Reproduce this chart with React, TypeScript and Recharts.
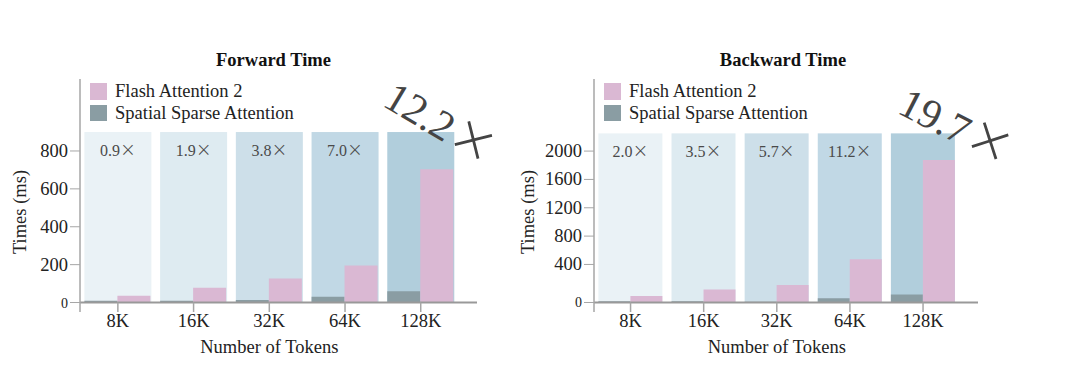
import React from 'react';
import {
  ComposedChart,
  Bar,
  XAxis,
  YAxis,
  ReferenceLine,
} from 'recharts';

const tokens = ['8K', '16K', '32K', '64K', '128K'];

const fwdFlash = [36, 78, 127, 196, 704];
const fwdSparse = [9, 9, 14, 30, 60];
const fwdBg = [900, 900, 900, 900, 900];
const fwdSpeedup = ['0.9', '1.9', '3.8', '7.0', '12.2'];
const fwdTicks = [0, 200, 400, 600, 800];

const bwdFlash = [69, 137, 185, 475, 1873];
const bwdSparse = [14, 14, 7, 45, 84];
const bwdBg = [2250, 2250, 2250, 2250, 2250];
const bwdSpeedup = ['2.0', '3.5', '5.7', '11.2', '19.7'];
const bwdTicks = [0, 400, 800, 1200, 1600, 2000];

const bgColors = ['#eaf2f6', '#deebf1', '#cddfe9', '#c1d8e5', '#b1cedc'];
const FLASH = '#dab8d3';
const SPARSE = '#8a9da3';
const AXIS = '#a6a6a6';
const FONT = '"Liberation Serif", "Times New Roman", Times, serif';

// the backward panel's axis is stretched below 400
const linear = (v: number) => v;
const bwdScale = (v: number) => (v <= 400 ? v : 400 + (v - 400) * 0.745);

const YTick = ({ x, y, index, labels }: any) => {
  const label = labels[index];
  return (
    <text x={x} y={y} dy={label === 0 ? 5 : 6} textAnchor="end" fontFamily={FONT}
      fontSize={label === 0 ? 14 : 18.5} fill="#222">
      {label}
    </text>
  );
};

const XTick = ({ x, y, payload }: any) => (
  <g>
    <line x1={x} x2={x} y1={y - 9.5} y2={y} stroke={AXIS} strokeWidth={1.5} />
    <text x={x} y={y + 15} textAnchor="middle" fontFamily={FONT} fontSize={18.5} fill="#222">
      {payload.value}
    </text>
  </g>
);

interface PanelProps {
  title: string;
  titleX: number;
  left: number;
  flash: number[];
  sparse: number[];
  bg: number[];
  speedup: string[];
  ticks: number[];
  domain: [number, number];
  scale: (v: number) => number;
  yWidth: number;
  right: number;
  labelX: number;
  big: { dx: number; dy: number; angle: number };
}

const Panel: React.FC<PanelProps> = ({
  title, titleX, left, flash, sparse, bg, speedup, ticks, domain, scale, yWidth, right, labelX, big,
}) => {
  const data = tokens.map((t, i) => ({
    token: t,
    flash: scale(flash[i]),
    sparse: scale(sparse[i]),
    bg: scale(bg[i]),
  }));

  const BgShape = (props: any) => {
    const { x, y, width, height, index } = props;
    const last = index === speedup.length - 1;
    const bx = x + big.dx;
    const by = y + big.dy;
    return (
      <g>
        <rect x={x} y={y} width={width} height={height} fill={bgColors[index]} />
        {last ? (
          <text x={bx} y={by} transform={`rotate(${big.angle}, ${bx}, ${by})`}
            fontFamily={FONT} fontSize={42} fill="#444">
            {speedup[index]}
            <tspan fontSize={56} fontFamily="DejaVu Sans" fontWeight={200}>×</tspan>
          </text>
        ) : (
          <text x={x + width / 2} y={y + 24} textAnchor="middle" fontFamily={FONT} fontSize={16} fill="#4a4a4a">
            {speedup[index]}
            <tspan fontFamily="DejaVu Sans" fontWeight={200} fontSize={19}>×</tspan>
          </text>
        )}
      </g>
    );
  };

  return (
    <div style={{ position: 'absolute', left, top: 0, width: 510, height: 365 }}>
      <div style={{
        position: 'absolute', left: titleX - 150, top: 50, width: 300, textAlign: 'center',
        fontFamily: FONT, fontWeight: 'bold', fontSize: 18.5, color: '#111',
      }}>
        {title}
      </div>
      <div style={{ position: 'absolute', left: yWidth + 10, top: 80, fontFamily: FONT, fontSize: 18.5, color: '#222', lineHeight: '22px' }}>
        <div style={{ display: 'flex', alignItems: 'center', gap: 8 }}>
          <span style={{ width: 17, height: 17, background: FLASH, display: 'inline-block' }} />
          Flash Attention 2
        </div>
        <div style={{ display: 'flex', alignItems: 'center', gap: 8 }}>
          <span style={{ width: 17, height: 16, background: SPARSE, display: 'inline-block' }} />
          Spatial Sparse Attention
        </div>
      </div>
      <ComposedChart
        width={510}
        height={365}
        data={data}
        margin={{ top: 79, right, bottom: 0, left: 0 }}
        barCategoryGap={4.4}
        barGap={0}
        style={{ position: 'absolute', left: 0, top: 0, overflow: 'visible' }}
      >
        <XAxis
          xAxisId="main"
          dataKey="token"
          height={53}
          padding={{ left: 0, right: 18.4 }}
          axisLine={false}
          tickLine={false}
          tickSize={0}
          tickMargin={0}
          interval={0}
          tick={<XTick />}
          label={(p: any) => {
            const vb = p.viewBox || p;
            return (
              <text x={vb.x + (vb.width - 18.4) / 2} y={353} textAnchor="middle" fontFamily={FONT} fontSize={18.5} fill="#222">
                Number of Tokens
              </text>
            );
          }}
        />
        <XAxis xAxisId="bg" dataKey="token" hide height={0} padding={{ left: 0, right: 18.4 }} />
        <YAxis
          type="number"
          domain={domain}
          ticks={ticks.map(scale)}
          interval={0}
          width={yWidth}
          axisLine={{ stroke: AXIS, strokeWidth: 1.5 }}
          tickLine={{ stroke: AXIS }}
          tickSize={10}
          tickMargin={2}
          tick={<YTick labels={ticks} />}
          label={() => (
            <text x={labelX} y={212} transform={`rotate(-90, ${labelX}, 212)`} textAnchor="middle"
              fontFamily={FONT} fontSize={18.5} fill="#222">
              Times (ms)
            </text>
          )}
        />
        <Bar xAxisId="bg" dataKey="bg" isAnimationActive={false} shape={<BgShape />} />
        <Bar xAxisId="main" dataKey="sparse" fill={SPARSE} isAnimationActive={false} />
        <Bar xAxisId="main" dataKey="flash" fill={FLASH} isAnimationActive={false} />
        <ReferenceLine xAxisId="main" y={0} stroke="#999" strokeWidth={2} />
      </ComposedChart>
    </div>
  );
};

export default function App() {
  return (
    <div style={{ position: 'absolute', left: 0, top: 0, width: 1080, height: 365, background: '#fff' }}>
      <Panel
        title="Forward Time"
        titleX={273.5}
        left={0}
        flash={fwdFlash}
        sparse={fwdSparse}
        bg={fwdBg}
        speedup={fwdSpeedup}
        ticks={fwdTicks}
        domain={[-50, 1180]}
        scale={linear}
        yWidth={80}
        right={33}
        labelX={26}
        big={{ dx: -6, dy: -27, angle: 31 }}
      />
      <Panel
        title="Backward Time"
        titleX={273}
        left={510}
        flash={bwdFlash}
        sparse={bwdSparse}
        bg={bwdBg}
        speedup={bwdSpeedup}
        ticks={bwdTicks}
        domain={[-100, 2350]}
        scale={bwdScale}
        yWidth={84}
        right={42}
        labelX={24}
        big={{ dx: 5, dy: -21, angle: 27 }}
      />
    </div>
  );
}
